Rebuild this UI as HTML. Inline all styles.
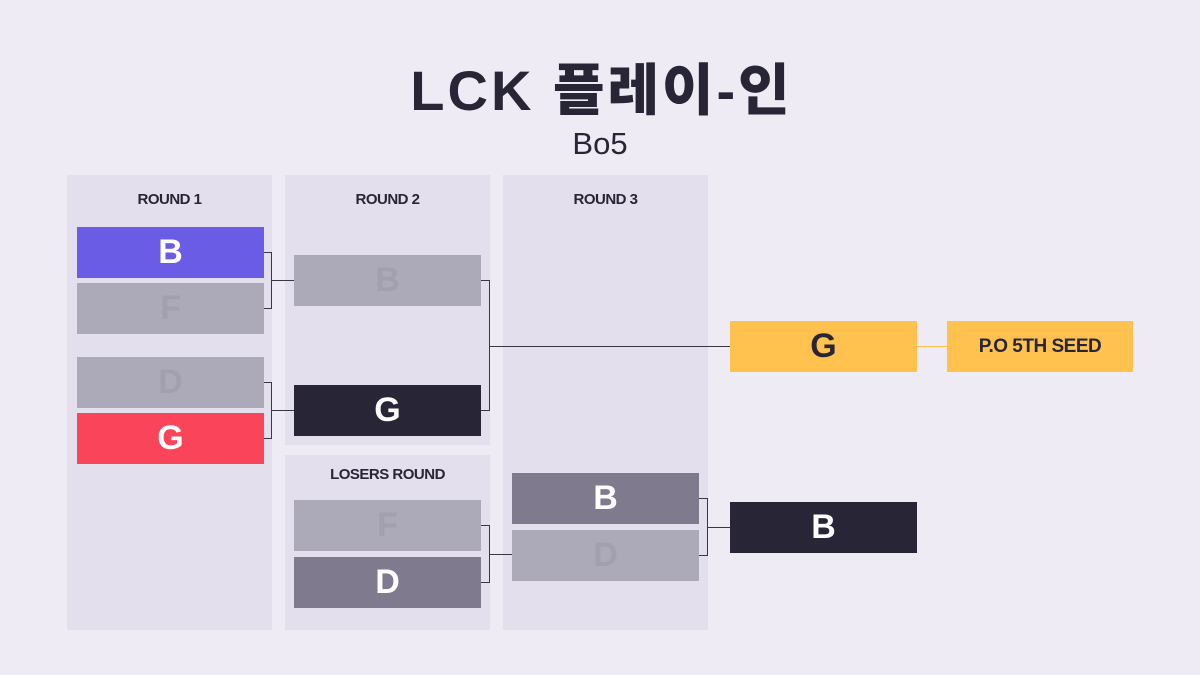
<!DOCTYPE html><html><head><meta charset="utf-8"><style>
body{margin:0;width:1200px;height:675px;background:#eeebf5;position:relative;overflow:hidden;font-family:"Liberation Sans","Noto Sans CJK KR",sans-serif}
div{position:absolute;box-sizing:border-box}
.p{background:#e3dfec}
.h{font-weight:bold;font-size:15px;color:#282536;text-align:center;letter-spacing:-0.5px}
.b{width:187px;height:51px;display:flex;align-items:center;justify-content:center;font-weight:bold;font-size:34px;color:#fff}
.g{background:#aca9b8;color:#a29fae}
.m{background:#7f7a8e}
.k{background:#282536}
.l{background:#3a3745}
</style></head><body>
<div style="left:0;width:1200px;top:56px;text-align:center;font-weight:900;font-size:56px;line-height:70px;color:#282536;letter-spacing:3px;text-indent:3px">LCK 플레이-인</div>
<div style="left:0;width:1200px;top:126px;text-align:center;font-size:31px;color:#282536">Bo5</div>
<div class="p" style="left:67px;top:175px;width:205px;height:455px"></div>
<div class="p" style="left:285px;top:175px;width:205px;height:270px"></div>
<div class="p" style="left:285px;top:455px;width:205px;height:175px"></div>
<div class="p" style="left:503px;top:175px;width:205px;height:455px"></div>
<div class="h" style="left:67px;width:205px;top:191px">ROUND 1</div>
<div class="h" style="left:285px;width:205px;top:191px">ROUND 2</div>
<div class="h" style="left:503px;width:205px;top:191px">ROUND 3</div>
<div class="h" style="left:285px;width:205px;top:466px">LOSERS ROUND</div>
<div class="l" style="left:263px;top:252px;width:9px;height:1px"></div>
<div class="l" style="left:263px;top:308px;width:9px;height:1px"></div>
<div class="l" style="left:271px;top:252px;width:1px;height:57px"></div>
<div class="l" style="left:271px;top:280px;width:23px;height:1px"></div>
<div class="l" style="left:263px;top:382px;width:9px;height:1px"></div>
<div class="l" style="left:263px;top:438px;width:9px;height:1px"></div>
<div class="l" style="left:271px;top:382px;width:1px;height:57px"></div>
<div class="l" style="left:271px;top:410px;width:23px;height:1px"></div>
<div class="l" style="left:481px;top:280px;width:9px;height:1px"></div>
<div class="l" style="left:481px;top:410px;width:9px;height:1px"></div>
<div class="l" style="left:489px;top:280px;width:1px;height:131px"></div>
<div class="l" style="left:489px;top:346px;width:241px;height:1px"></div>
<div class="l" style="left:481px;top:525px;width:9px;height:1px"></div>
<div class="l" style="left:481px;top:582px;width:9px;height:1px"></div>
<div class="l" style="left:489px;top:525px;width:1px;height:58px"></div>
<div class="l" style="left:489px;top:554px;width:23px;height:1px"></div>
<div class="l" style="left:699px;top:498px;width:9px;height:1px"></div>
<div class="l" style="left:699px;top:555px;width:9px;height:1px"></div>
<div class="l" style="left:707px;top:498px;width:1px;height:58px"></div>
<div class="l" style="left:707px;top:527px;width:23px;height:1px"></div>
<div style="left:917px;top:346px;width:30px;height:1px;background:#ffc24e"></div>
<div class="b" style="left:77px;top:227px;background:#6b5ce6">B</div>
<div class="b g" style="left:77px;top:283px">F</div>
<div class="b g" style="left:77px;top:357px">D</div>
<div class="b" style="left:77px;top:413px;background:#f9445a">G</div>
<div class="b g" style="left:294px;top:255px">B</div>
<div class="b k" style="left:294px;top:385px">G</div>
<div class="b g" style="left:294px;top:500px">F</div>
<div class="b m" style="left:294px;top:557px">D</div>
<div class="b m" style="left:512px;top:473px">B</div>
<div class="b g" style="left:512px;top:530px">D</div>
<div class="b" style="left:730px;top:321px;background:#ffc24e;color:#282536">G</div>
<div class="b" style="left:947px;top:321px;width:186px;background:#ffc24e;color:#282536;font-size:19px;letter-spacing:-0.5px">P.O 5TH SEED</div>
<div class="b k" style="left:730px;top:502px">B</div>
</body></html>
